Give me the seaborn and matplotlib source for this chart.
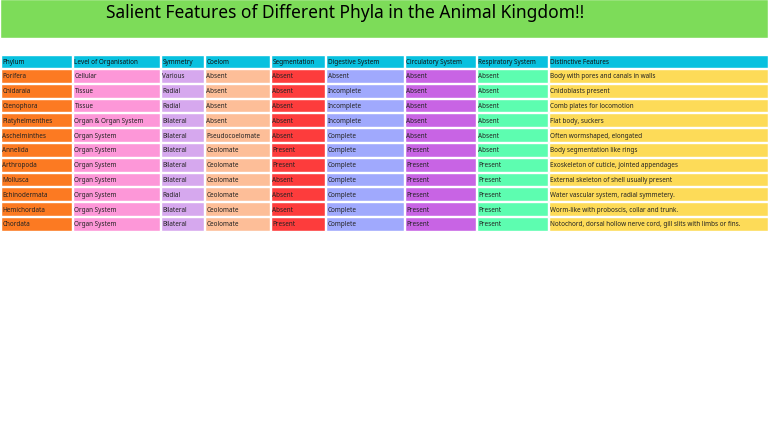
import matplotlib
matplotlib.use("Agg")
import matplotlib.pyplot as plt
import seaborn as sns

sns.set_style("white")
plt.rcParams['font.family'] = ['Noto Sans', 'DejaVu Sans']

title = "Salient Features of Different Phyla in the Animal Kingdom!!"
headers = ["Phylum", "Level of Organisation", "Symmetry", "Coelom", "Segmentation",
           "Digestive System", "Circulatory System", "Respiratory System", "Distinctive Features"]
phylum = ["Porifera", "Cnidaraia", "Ctenophora", "Platyhelmenthes", "Aschelminthes", "Annelida",
          "Arthropoda", "Mollusca", "Echinodermata", "Hemichordata", "Chordata"]
level = ["Cellular", "Tissue", "Tissue", "Organ & Organ System"] + ["Organ System"] * 7
symmetry = ["Various", "Radial", "Radial", "Bilateral", "Bilateral", "Bilateral", "Bilateral",
            "Bilateral", "Radial", "Bilateral", "Bilateral"]
coelom = ["Absent", "Absent", "Absent", "Absent", "Pseudocoelomate"] + ["Ceolomate"] * 6
segmentation = ["Absent"] * 5 + ["Present", "Present", "Absent", "Absent", "Absent", "Present"]
digestive = ["Absent", "Incomplete", "Incomplete", "Incomplete"] + ["Complete"] * 7
circulatory = ["Absent"] * 5 + ["Present"] * 6
respiratory = ["Absent"] * 6 + ["Present"] * 5
features = ["Body with pores and canals in walls", "Cnidoblasts present", "Comb plates for locomotion",
            "Flat body, suckers", "Often wormshaped, elongated", "Body segmentation like rings",
            "Exoskeleton of cuticle, jointed appendages", "External skeleton of shell usually present",
            "Water vascular system, radial symmetery.", "Worm-like with proboscis, collar and trunk.",
            "Notochord, dorsal hollow nerve cord, gill slits with limbs or fins."]
columns = [phylum, level, symmetry, coelom, segmentation, digestive, circulatory, respiratory, features]

col_colors = ["#fc7a22", "#fd97d8", "#d6a8ee", "#fdbe98", "#fd3c3c", "#a0a9fd", "#c864e4", "#5dfdb0", "#fddb58"]
col_edges = [0, 72, 160, 204, 270, 325, 404, 476, 548, 768]
header_top, header_h, row_h = 55, 14.5, 14.8

fig = plt.figure(figsize=(7.68, 4.31), dpi=100)
ax = fig.add_axes([0, 0, 1, 1])
ax.set_xlim(0, 768)
ax.set_ylim(431, 0)
ax.axis("off")

# title banner
ax.barh(19.5, 768, height=39, left=0, color="#7ddc59")
ax.text(345, 13, title, ha="center", va="center", fontsize=12.5, fontweight="bold", color="black")

# header row
for i, h in enumerate(headers):
    x0, x1 = col_edges[i], col_edges[i + 1]
    ax.barh(header_top + header_h / 2, x1 - x0 - 1, height=header_h - 1, left=x0 + 0.5, color="#08c1df")
    ax.text(x0 + 2.5, header_top + header_h / 2, h, ha="left", va="center", fontsize=4.6,
            fontweight="bold", color="#111")

# body
top = header_top + header_h
for i, vals in enumerate(columns):
    x0, x1 = col_edges[i], col_edges[i + 1]
    ys = [top + (r + 0.5) * row_h for r in range(len(vals))]
    ax.barh(ys, x1 - x0 - 1, height=row_h - 1, left=x0 + 0.5, color=col_colors[i])
    for y, v in zip(ys, vals):
        ax.text(x0 + 2.5, y, v, ha="left", va="center", fontsize=4.6,
                fontweight="bold" if i == 0 else "normal", color="#222")

fig.savefig("out.png", dpi=100)
